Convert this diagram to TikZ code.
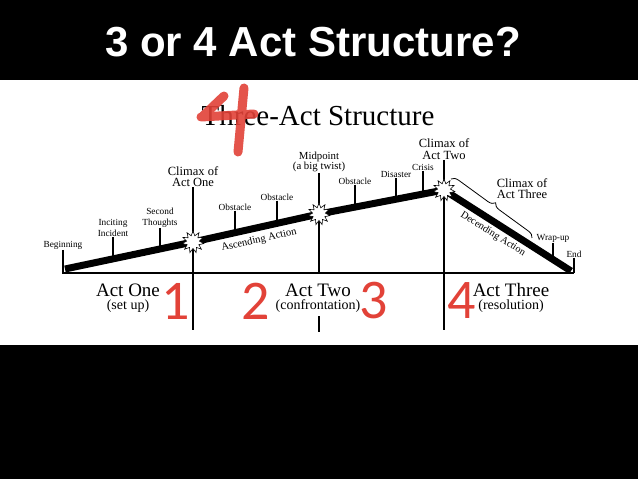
\documentclass[tikz,border=0pt]{standalone}
\usepackage{fontspec}
\setmainfont{Liberation Serif}
\newfontfamily\headfont{Liberation Sans}
\newfontfamily\numfont{Carlito}
\usepackage{tikz}
\usetikzlibrary{positioning, shapes.geometric, decorations.pathreplacing}
\definecolor{rojo}{RGB}{226, 66, 56}
\tikzset{
    lbl/.style={align=center, inner sep=0.5pt, font=\fontsize{9.3}{10.5}\selectfont},
    big/.style={align=center, inner sep=0.5pt, font=\fontsize{12.5}{11.5}\selectfont},
    act/.style={inner sep=0pt, font=\fontsize{19}{19}\selectfont},
    sub/.style={inner sep=0pt, font=\fontsize{14}{14}\selectfont},
    num/.style={rojo, inner sep=0pt, font=\numfont\fontsize{56}{56}\selectfont},
    tick/.style={-, black, line width=1.2pt},
    plot/.style={-, black, line width=7pt, line join=round},
    burst/.style={star, star points=11, star point ratio=1.7, minimum size=22pt, draw, fill=white, line width=0.6pt, inner sep=0pt},
    scrawl/.style={rojo, line width=9pt, line cap=round},
}
\begin{document}
\begin{tikzpicture}[x=1pt, y=-1pt]
        \useasboundingbox (0,0) rectangle (638,479);
        \fill[black] (0,0) rectangle (638,479);
        \fill[white] (0,80) rectangle (638,345);

        \node[white, inner sep=0pt, font=\headfont\bfseries\fontsize{42}{42}\selectfont] (head) at (313,42) {3 or 4 Act Structure?};
        \node[inner sep=0pt, font=\fontsize{29}{29}\selectfont] (ttl) at (318,116) {Three-Act Structure};

        \begin{scope}[transparency group, opacity=0.9]
            \draw[scrawl] (224,96) -- (203,116);
            \draw[scrawl] (201,117) -- (254,114);
            \draw[scrawl] (244,88) -- (238,152);
        \end{scope}

        \coordinate (a0) at (62,273);
        \coordinate (a1) at (574,273);
        \coordinate (p0) at (65,269);
        \coordinate (p1) at (193,242);
        \coordinate (p2) at (319,214);
        \coordinate (p3) at (444,190);
        \coordinate (p4) at (571,271);

        \node[lbl] (beg) at (63,245) {Beginning};
        \node[lbl] (inc) at (113,228) {Inciting\\Incident};
        \node[lbl] (sec) at (160,218) {Second\\Thoughts};
        \node[big] (cl1) at (193,176.5) {Climax of\\Act One};
        \node[lbl] (ob1) at (235,207) {Obstacle};
        \node[lbl] (ob2) at (277,197) {Obstacle};
        \node[lbl, font=\fontsize{10.8}{10.5}\selectfont] (mid) at (319,162) {Midpoint\\(a big twist)};
        \node[lbl] (ob3) at (355,181) {Obstacle};
        \node[lbl] (dis) at (396,174) {Disaster};
        \node[lbl] (cri) at (423,167) {Crisis};
        \node[big] (cl2) at (444,149) {Climax of\\Act Two};
        \node[big] (cl3) at (522,188.5) {Climax of\\Act Three};
        \node[lbl] (wrp) at (553,238) {Wrap-up};
        \node[lbl] (fin) at (574,254) {End};

        \node[lbl, font=\fontsize{10.6}{10.6}\selectfont, rotate=12.5] (asc) at (259,240) {Ascending Action};
        \node[lbl, font=\fontsize{10.2}{10.2}\selectfont, rotate=-32] (dsc) at (493,234) {Decending Action};

        \draw[tick] (a0) -- (a1);
        \draw[tick] (beg.south) -- (a0 -| beg);
        \draw[tick] (inc.south) -- (113,259);
        \draw[tick] (sec.south) -- (160,249);
        \draw[tick] (ob1.south) -- (235,233);
        \draw[tick] (ob2.south) -- (277,223);
        \draw[tick] (ob3.south) -- (355,207);
        \draw[tick] (dis.south) -- (396,199);
        \draw[tick] (cri.south) -- (423,194);
        \draw[tick] (wrp.south) -- (553,259);
        \draw[tick] (fin.south) -- (a1);

        \draw[tick, line width=1.4pt] (cl1.south) -- (193,330);
        \draw[tick, line width=1.4pt] (mid.south) -- (319,273);
        \draw[tick, line width=1.4pt] (319,316) -- (319,332);
        \draw[tick, line width=1.4pt] (cl2.south) -- (444,330);

        \draw[plot] (p0) -- (p1) -- (p2) -- (p3) -- (p4);

        \node[burst] (s1) at (p1) {};
        \node[burst] (s2) at (p2) {};
        \node[burst] (s3) at (p3) {};

        \draw[decorate, decoration={brace, amplitude=7pt}, line width=0.8pt] (451,179) -- (532,238);

        \node[act] (one) at (128,290) {Act One};
        \node[sub] (one2) at (128,306) {(set up)};
        \node[act] (two) at (318,290) {Act Two};
        \node[sub] (two2) at (318,306) {(confrontation)};
        \node[act] (three) at (511,290) {Act Three};
        \node[sub] (three2) at (511,306) {(resolution)};

        \node[num] (n1) at (176,301) {1};
        \node[num] (n2) at (256,301) {2};
        \node[num] (n3) at (374,301) {3};
        \node[num] (n4) at (462,301) {4};
\end{tikzpicture}
\end{document}
